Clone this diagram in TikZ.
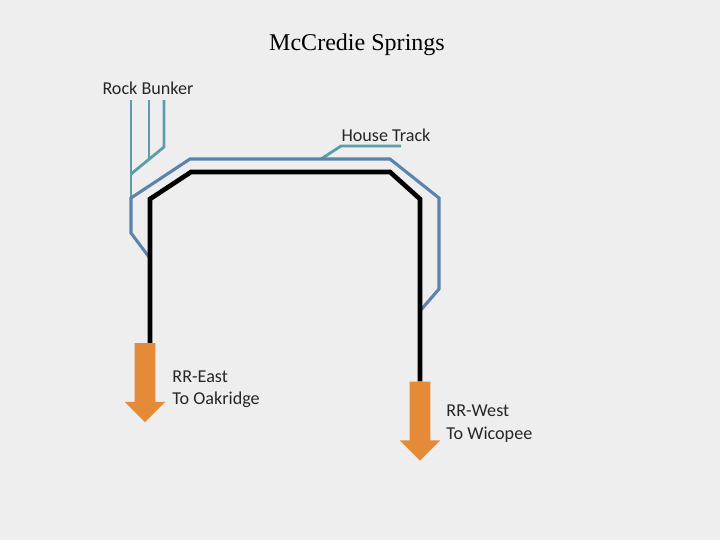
\documentclass[tikz,border=0pt]{standalone}
\usepackage{fontspec}
\setmainfont{Carlito}
\newfontfamily\titlefont{Liberation Serif}
\usetikzlibrary{shapes.arrows}
\definecolor{pagegray}{HTML}{EEEEEE}
\definecolor{trackblue}{HTML}{5B83AC}
\definecolor{spurteal}{HTML}{5C9DA9}
\definecolor{arroworange}{HTML}{E58A38}
\tikzset{
  mainline/.style={line width=3.3pt,black,miter limit=10},
  siding/.style={line width=2.2pt,trackblue},
  spur/.style={line width=2pt,spurteal},
  label/.style={font=\fontsize{12.9}{16}\selectfont,align=left,text=black!85},
  dirarrow/.style={single arrow,fill=arroworange,rotate=-90,inner sep=0.25cm,
    minimum width=1cm,minimum height=1.975cm,single arrow head extend=0.25cm}
}
\begin{document}
\begin{tikzpicture}[x=0.025cm,y=-0.025cm]
   \fill[pagegray] (0,0) rectangle (720,540);
   \useasboundingbox (0,0) rectangle (720,540);

   \draw (357,45) node (title) {\titlefont\fontsize{17.1}{20}\selectfont McCredie Springs};
   \draw (148,88) node[label] (bunker) {Rock Bunker};
   \draw (386,135) node[label] (house) {House Track};
   \draw (167.5,389) node[label,anchor=west] (east) {RR-East\\To Oakridge};
   \draw (441.5,423.5) node[label,anchor=west] (west) {RR-West\\To Wicopee};

   \draw (145,377.5) node[dirarrow] (eastarrow) {};
   \draw (420,416) node[dirarrow] (westarrow) {};

   % main line
   \coordinate (m1) at (150,199);
   \coordinate (m2) at (191,172);
   \coordinate (m3) at (390,172);
   \coordinate (m4) at (420,199);
   % rock bunker spurs
   \coordinate (s0) at (131,198);
   \coordinate (s1) at (131,100);
   \coordinate (s2) at (149,100);
   \coordinate (s3) at (164,100);
   \coordinate (s4) at (131,174);
   \coordinate (s5) at (149,158);
   \coordinate (s6) at (164,147);
   % blue siding
   \coordinate (b1) at (149,257);
   \coordinate (b2) at (131,233);
   \coordinate (b3) at (190,159);
   \coordinate (b4) at (390,159);
   \coordinate (b5) at (439,198);
   \coordinate (b6) at (439,289);
   \coordinate (b7) at (420,311);
   % house track
   \coordinate (h1) at (321,159);
   \coordinate (h2) at (341,146);
   \coordinate (h3) at (401,146);

   \draw[spur] (s0) -- (s1);
   \draw[spur] (s2) -- (s5);
   \draw[spur] (s3) -- (s6) -- (s4);
   \draw[spur] (h1) -- (h2) -- (h3);
   \draw[siding] (b1) -- (b2) -- (s0) -- (b3) -- (b4) -- (b5) -- (b6) -- (b7);
   \draw[mainline] (m1 |- eastarrow.tail) -- (m1) -- (m2) -- (m3) -- (m4) -- (westarrow.tail);
\end{tikzpicture}
\end{document}
